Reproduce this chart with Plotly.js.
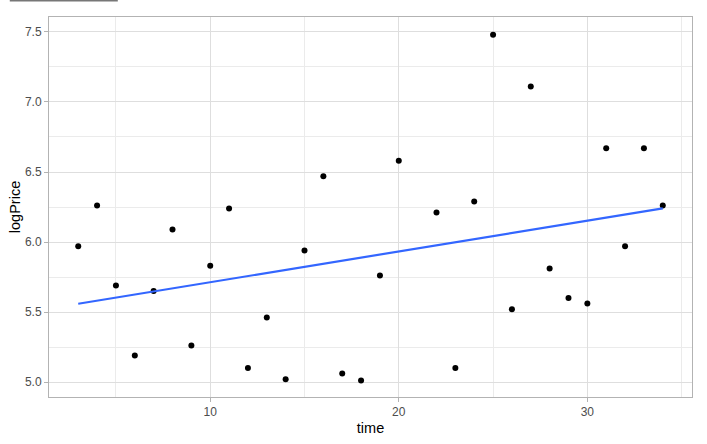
<!DOCTYPE html>
<html>
<head>
<meta charset="utf-8">
<script src="https://cdn.plot.ly/plotly-3.0.1.min.js"></script>
<style>html,body{margin:0;padding:0;background:#fff;}#chart{width:707px;height:444px;}</style>
</head>
<body>
<div id="chart"></div>
<script>
const time = [3,4,5,6,7,8,9,10,11,12,13,14,15,16,17,18,19,20,22,23,24,25,26,27,28,29,30,31,32,33,34];
const logPrice = [5.97,6.26,5.69,5.19,5.65,6.09,5.26,5.83,6.24,5.10,5.46,5.02,5.94,6.47,5.06,5.01,5.76,6.58,6.21,5.10,6.29,7.48,5.52,7.11,5.81,5.60,5.56,6.67,5.97,6.67,6.26];
const xTicks = [10,20,30];
const yTicks = [5.0,5.5,6.0,6.5,7.0,7.5];
const yTickLabels = ["5.0","5.5","6.0","6.5","7.0","7.5"];

// least-squares fit (geom_smooth method = "lm")
const n = time.length;
const mx = time.reduce((a,b)=>a+b,0)/n;
const my = logPrice.reduce((a,b)=>a+b,0)/n;
let sxy=0, sxx=0;
for (let i=0;i<n;i++){ sxy+=(time[i]-mx)*(logPrice[i]-my); sxx+=(time[i]-mx)**2; }
const slope = sxy/sxx, intercept = my - slope*mx;
const fitX = [Math.min(...time), Math.max(...time)];
const fitY = fitX.map(x=>intercept+slope*x);

const data = [
  {x: time, y: logPrice, type:'scatter', mode:'markers', marker:{color:'#000000', size:6}, hoverinfo:'x+y'},
  {x: fitX, y: fitY, type:'scatter', mode:'lines', line:{color:'#3366FF', width:2.2}, hoverinfo:'skip'}
];
const font = 'Liberation Sans, Arial, sans-serif';
const layout = {
  width:707, height:444,
  margin:{l:49, r:15, t:17, b:47},
  paper_bgcolor:'#ffffff', plot_bgcolor:'#ffffff',
  showlegend:false,
  font:{family:font},
  xaxis:{
    range:[1.45,35.55], tickvals:xTicks, ticktext:xTicks.map(String),
    showgrid:true, gridcolor:'#DEDEDE', gridwidth:1,
    minor:{tickvals:[5,15,25,35], showgrid:true, gridcolor:'#EBEBEB', gridwidth:1, ticks:''},
    zeroline:false, showline:true, mirror:true, linecolor:'#B3B3B3', linewidth:1,
    ticks:'outside', ticklen:4, tickcolor:'#B3B3B3', tickwidth:1,
    tickfont:{family:font, size:12, color:'#4D4D4D'},
    title:{text:'time', font:{family:font, size:14.5, color:'#000000'}, standoff:4}
  },
  yaxis:{
    range:[4.893,7.607], tickvals:yTicks, ticktext:yTickLabels,
    showgrid:true, gridcolor:'#DEDEDE', gridwidth:1,
    minor:{tickvals:[4.75,5.25,5.75,6.25,6.75,7.25], showgrid:true, gridcolor:'#EBEBEB', gridwidth:1, ticks:''},
    zeroline:false, showline:true, mirror:true, linecolor:'#B3B3B3', linewidth:1,
    ticks:'outside', ticklen:4, tickcolor:'#B3B3B3', tickwidth:1,
    tickfont:{family:font, size:12, color:'#4D4D4D'},
    title:{text:'logPrice', font:{family:font, size:14.5, color:'#000000'}, standoff:0}
  },
  shapes:[
    {type:'line', xref:'paper', yref:'paper', x0:-0.061, x1:0.107, y0:1.0434, y1:1.0434, line:{color:'#777777', width:2}}
  ]
};
Plotly.newPlot('chart', data, layout, {displayModeBar:false, staticPlot:true});
</script>
</body>
</html>
